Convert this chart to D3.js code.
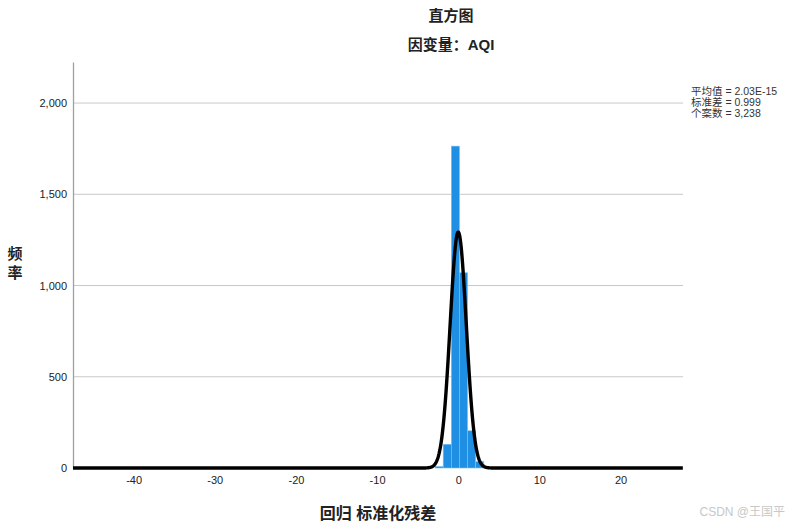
<!DOCTYPE html>
<html><head><meta charset="utf-8">
<script src="https://cdn.jsdelivr.net/npm/d3@7"></script>
<style>body{margin:0;background:#fff}svg{display:block}</style>
</head><body>
<script>
// ---- data ----
const binStarts = [-2.85, -1.85, -0.85, 0.15, 1.15, 2.15];
const binCounts = [8, 130, 1764, 1070, 204, 35];
const binWidth = 1.0;
const statLabels = ["平均值 = 2.03E-15", "标准差 = 0.999", "个案数 = 3,238"];
const statMean = [2.03e-15];
const statSD = [0.999];
const statN = [3238];
const xTicks = [-40, -30, -20, -10, 0, 10, 20];
const yTicks = [0, 500, 1000, 1500, 2000];
const xDomain = [-47.47, 27.7];
const yDomain = [0, 2225];

(function () {
const W = 793, H = 526;
const pLeft = 73, pRight = 683, pTop = 62, pBottom = 468;
const svg = d3.select("body").append("svg").attr("width", W).attr("height", H);
const font = "Arial, 'Liberation Sans', 'Noto Sans CJK SC', sans-serif";

const x = d3.scaleLinear().domain(xDomain).range([pLeft, pRight]);
const y = d3.scaleLinear().domain(yDomain).range([pBottom, pTop]);

// gridlines
svg.append("g").selectAll("line").data(yTicks.filter(d => d > 0)).join("line")
  .attr("x1", pLeft).attr("x2", pRight)
  .attr("y1", d => y(d)).attr("y2", d => y(d))
  .attr("stroke", "#c9c9c9").attr("stroke-width", 1);

// y axis
const yAxis = d3.axisLeft(y).tickValues(yTicks).tickSize(0).tickPadding(6).tickFormat(d3.format(","));
const gy = svg.append("g").attr("transform", `translate(${pLeft},0)`).call(yAxis);
gy.select(".domain").attr("stroke", "#a0a0a0").attr("stroke-width", 1.3);
gy.selectAll("text").attr("font-family", font).attr("font-size", 11).attr("fill", "#222");

// x axis (labels only)
const xAxis = d3.axisBottom(x).tickValues(xTicks).tickSize(0).tickPadding(8).tickFormat(d => String(d));
const gx = svg.append("g").attr("transform", `translate(0,${pBottom})`).call(xAxis);
gx.select(".domain").remove();
gx.selectAll("text").attr("font-family", font).attr("font-size", 11).attr("fill", "#222");

// bars
svg.append("g").selectAll("rect").data(binStarts.map((s, i) => ({s, c: binCounts[i]}))).join("rect")
  .attr("x", d => x(d.s)).attr("width", d => x(d.s + binWidth) - x(d.s))
  .attr("y", d => y(d.c)).attr("height", d => y(0) - y(d.c))
  .attr("fill", "#1e8fe3").attr("stroke", "#7cc0f2").attr("stroke-width", 0.6);

// normal curve from the stated statistics
const m = statMean[0], sd = statSD[0], n = statN[0];
const xs = d3.range(xDomain[0], xDomain[1] + 0.001, 0.05);
const curve = xs.map(v => [v, n * binWidth * Math.exp(-0.5 * ((v - m) / sd) ** 2) / (sd * Math.sqrt(2 * Math.PI))]);
svg.append("path").datum(curve)
  .attr("d", d3.line().x(d => x(d[0])).y(d => y(d[1])))
  .attr("fill", "none").attr("stroke", "#000").attr("stroke-width", 3.4).attr("stroke-linejoin", "round");

// stats legend
svg.append("g").selectAll("text").data(statLabels).join("text")
  .attr("x", 691).attr("y", (d, i) => 95 + i * 10.8)
  .attr("font-family", "'Liberation Sans', 'Noto Sans CJK SC', sans-serif").attr("font-size", 10.5).attr("fill", "#333")
  .text(d => d);

// titles
svg.append("text").attr("x", 451).attr("y", 21).attr("text-anchor", "middle")
  .attr("font-family", font).attr("font-size", 15).attr("font-weight", "bold").attr("fill", "#222").text("直方图");
svg.append("text").attr("x", 451).attr("y", 50).attr("text-anchor", "middle")
  .attr("font-family", font).attr("font-size", 15).attr("font-weight", "bold").attr("fill", "#222").text("因变量：AQI");

// axis titles
svg.append("text").attr("x", 378).attr("y", 519).attr("text-anchor", "middle")
  .attr("font-family", font).attr("font-size", 16).attr("font-weight", "bold").attr("fill", "#222").text("回归 标准化残差");
const yl = svg.append("text").attr("font-family", font).attr("font-size", 15).attr("font-weight", "bold").attr("fill", "#222").attr("text-anchor", "middle");
yl.append("tspan").attr("x", 15).attr("y", 259).text("频");
yl.append("tspan").attr("x", 15).attr("y", 278).text("率");

// watermark
svg.append("text").attr("x", 785).attr("y", 516).attr("text-anchor", "end")
  .attr("font-family", font).attr("font-size", 12).attr("fill", "#c8c8c8").text("CSDN @王国平");
})();
</script>
</body></html>
